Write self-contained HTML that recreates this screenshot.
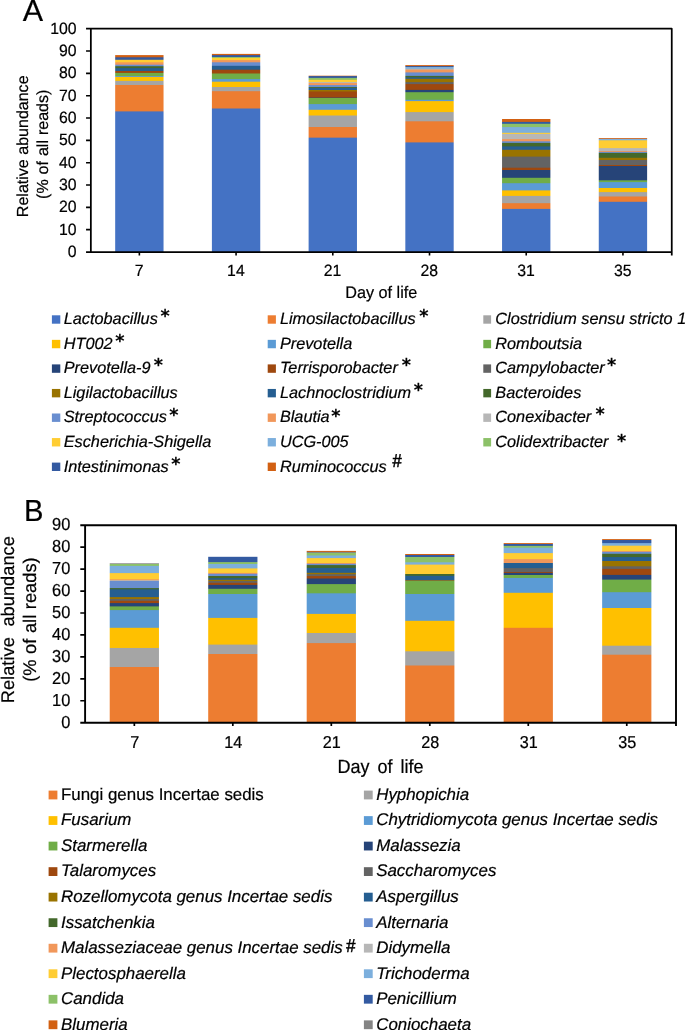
<!DOCTYPE html>
<html lang="en">
<head>
<meta charset="utf-8">
<title>Relative abundance of bacterial and fungal genera by day of life</title>
<style>
html,body{margin:0;padding:0;background:#fff;}
body{width:685px;height:1030px;overflow:hidden;}
svg{display:block;font-family:"Liberation Sans", sans-serif;fill:#000;text-rendering:geometricPrecision;}
text{stroke:#000;stroke-width:0.2px;}
</style>
</head>
<body>
<svg width="685" height="1030" viewBox="0 0 685 1030">
<rect x="0" y="0" width="685" height="1030" fill="#fff"/>
<text x="22.8" y="20.7" font-size="30.5">A</text>
<text transform="translate(23.95 520.9) scale(0.96 1)" font-size="30.4">B</text>
<g id="chartA">
<rect x="112.18" y="55.10" width="54.36" height="196.90" fill="#D26012"/>
<rect x="112.18" y="57.30" width="54.36" height="194.70" fill="#335AA1"/>
<rect x="112.18" y="59.80" width="54.36" height="192.20" fill="#FFCD33"/>
<rect x="112.18" y="62.30" width="54.36" height="189.70" fill="#F1975A"/>
<rect x="112.18" y="64.70" width="54.36" height="187.30" fill="#698ED0"/>
<rect x="112.18" y="66.20" width="54.36" height="185.80" fill="#43682B"/>
<rect x="112.18" y="68.10" width="54.36" height="183.90" fill="#255E91"/>
<rect x="112.18" y="71.00" width="54.36" height="181.00" fill="#9E480E"/>
<rect x="112.18" y="72.90" width="54.36" height="179.10" fill="#70AD47"/>
<rect x="112.18" y="76.00" width="54.36" height="176.00" fill="#5B9BD5"/>
<rect x="112.18" y="76.90" width="54.36" height="175.10" fill="#FFC000"/>
<rect x="112.18" y="80.90" width="54.36" height="171.10" fill="#A5A5A5"/>
<rect x="112.18" y="85.00" width="54.36" height="167.00" fill="#ED7D31"/>
<rect x="112.18" y="111.40" width="54.36" height="140.60" fill="#4472C4"/>
<rect x="110.18" y="53.10" width="5" height="198.90" fill="#fff"/>
<rect x="163.54" y="53.10" width="5" height="198.90" fill="#fff"/>
<rect x="208.90" y="53.90" width="54.36" height="198.10" fill="#D26012"/>
<rect x="208.90" y="55.10" width="54.36" height="196.90" fill="#335AA1"/>
<rect x="208.90" y="57.00" width="54.36" height="195.00" fill="#8CC168"/>
<rect x="208.90" y="57.90" width="54.36" height="194.10" fill="#FFCD33"/>
<rect x="208.90" y="60.10" width="54.36" height="191.90" fill="#F1975A"/>
<rect x="208.90" y="62.30" width="54.36" height="189.70" fill="#698ED0"/>
<rect x="208.90" y="65.80" width="54.36" height="186.20" fill="#255E91"/>
<rect x="208.90" y="69.70" width="54.36" height="182.30" fill="#9E480E"/>
<rect x="208.90" y="73.50" width="54.36" height="178.50" fill="#70AD47"/>
<rect x="208.90" y="79.10" width="54.36" height="172.90" fill="#5B9BD5"/>
<rect x="208.90" y="81.70" width="54.36" height="170.30" fill="#FFC000"/>
<rect x="208.90" y="87.00" width="54.36" height="165.00" fill="#A5A5A5"/>
<rect x="208.90" y="91.20" width="54.36" height="160.80" fill="#ED7D31"/>
<rect x="208.90" y="108.50" width="54.36" height="143.50" fill="#4472C4"/>
<rect x="206.90" y="51.90" width="5" height="200.10" fill="#fff"/>
<rect x="260.25" y="51.90" width="5" height="200.10" fill="#fff"/>
<rect x="305.61" y="75.70" width="54.36" height="176.30" fill="#D26012"/>
<rect x="305.61" y="76.10" width="54.36" height="175.90" fill="#335AA1"/>
<rect x="305.61" y="77.90" width="54.36" height="174.10" fill="#8CC168"/>
<rect x="305.61" y="79.80" width="54.36" height="172.20" fill="#FFCD33"/>
<rect x="305.61" y="82.10" width="54.36" height="169.90" fill="#B7B7B7"/>
<rect x="305.61" y="83.10" width="54.36" height="168.90" fill="#F1975A"/>
<rect x="305.61" y="85.10" width="54.36" height="166.90" fill="#698ED0"/>
<rect x="305.61" y="87.10" width="54.36" height="164.90" fill="#43682B"/>
<rect x="305.61" y="88.00" width="54.36" height="164.00" fill="#255E91"/>
<rect x="305.61" y="90.00" width="54.36" height="162.00" fill="#997300"/>
<rect x="305.61" y="91.50" width="54.36" height="160.50" fill="#9E480E"/>
<rect x="305.61" y="97.60" width="54.36" height="154.40" fill="#264478"/>
<rect x="305.61" y="98.00" width="54.36" height="154.00" fill="#70AD47"/>
<rect x="305.61" y="104.10" width="54.36" height="147.90" fill="#5B9BD5"/>
<rect x="305.61" y="109.80" width="54.36" height="142.20" fill="#FFC000"/>
<rect x="305.61" y="115.50" width="54.36" height="136.50" fill="#A5A5A5"/>
<rect x="305.61" y="127.00" width="54.36" height="125.00" fill="#ED7D31"/>
<rect x="305.61" y="137.65" width="54.36" height="114.35" fill="#4472C4"/>
<rect x="303.61" y="73.70" width="5" height="178.30" fill="#fff"/>
<rect x="356.97" y="73.70" width="5" height="178.30" fill="#fff"/>
<rect x="402.33" y="65.10" width="54.36" height="186.90" fill="#D26012"/>
<rect x="402.33" y="66.10" width="54.36" height="185.90" fill="#335AA1"/>
<rect x="402.33" y="67.00" width="54.36" height="185.00" fill="#7CAFDD"/>
<rect x="402.33" y="68.80" width="54.36" height="183.20" fill="#B7B7B7"/>
<rect x="402.33" y="69.60" width="54.36" height="182.40" fill="#F1975A"/>
<rect x="402.33" y="72.40" width="54.36" height="179.60" fill="#698ED0"/>
<rect x="402.33" y="75.90" width="54.36" height="176.10" fill="#43682B"/>
<rect x="402.33" y="77.30" width="54.36" height="174.70" fill="#255E91"/>
<rect x="402.33" y="78.80" width="54.36" height="173.20" fill="#997300"/>
<rect x="402.33" y="82.10" width="54.36" height="169.90" fill="#636363"/>
<rect x="402.33" y="84.10" width="54.36" height="167.90" fill="#9E480E"/>
<rect x="402.33" y="89.90" width="54.36" height="162.10" fill="#264478"/>
<rect x="402.33" y="92.20" width="54.36" height="159.80" fill="#70AD47"/>
<rect x="402.33" y="99.80" width="54.36" height="152.20" fill="#5B9BD5"/>
<rect x="402.33" y="101.10" width="54.36" height="150.90" fill="#FFC000"/>
<rect x="402.33" y="112.10" width="54.36" height="139.90" fill="#A5A5A5"/>
<rect x="402.33" y="121.30" width="54.36" height="130.70" fill="#ED7D31"/>
<rect x="402.33" y="142.40" width="54.36" height="109.60" fill="#4472C4"/>
<rect x="400.33" y="63.10" width="5" height="188.90" fill="#fff"/>
<rect x="453.69" y="63.10" width="5" height="188.90" fill="#fff"/>
<rect x="499.05" y="119.00" width="54.36" height="133.00" fill="#D26012"/>
<rect x="499.05" y="121.90" width="54.36" height="130.10" fill="#335AA1"/>
<rect x="499.05" y="123.80" width="54.36" height="128.20" fill="#8CC168"/>
<rect x="499.05" y="127.10" width="54.36" height="124.90" fill="#7CAFDD"/>
<rect x="499.05" y="132.80" width="54.36" height="119.20" fill="#FFCD33"/>
<rect x="499.05" y="133.90" width="54.36" height="118.10" fill="#B7B7B7"/>
<rect x="499.05" y="139.10" width="54.36" height="112.90" fill="#F1975A"/>
<rect x="499.05" y="141.30" width="54.36" height="110.70" fill="#698ED0"/>
<rect x="499.05" y="142.90" width="54.36" height="109.10" fill="#43682B"/>
<rect x="499.05" y="146.40" width="54.36" height="105.60" fill="#255E91"/>
<rect x="499.05" y="149.80" width="54.36" height="102.20" fill="#997300"/>
<rect x="499.05" y="156.60" width="54.36" height="95.40" fill="#636363"/>
<rect x="499.05" y="167.70" width="54.36" height="84.30" fill="#9E480E"/>
<rect x="499.05" y="170.00" width="54.36" height="82.00" fill="#264478"/>
<rect x="499.05" y="177.80" width="54.36" height="74.20" fill="#70AD47"/>
<rect x="499.05" y="183.20" width="54.36" height="68.80" fill="#5B9BD5"/>
<rect x="499.05" y="190.40" width="54.36" height="61.60" fill="#FFC000"/>
<rect x="499.05" y="195.90" width="54.36" height="56.10" fill="#A5A5A5"/>
<rect x="499.05" y="203.20" width="54.36" height="48.80" fill="#ED7D31"/>
<rect x="499.05" y="208.90" width="54.36" height="43.10" fill="#4472C4"/>
<rect x="497.05" y="117.00" width="5" height="135.00" fill="#fff"/>
<rect x="550.40" y="117.00" width="5" height="135.00" fill="#fff"/>
<rect x="595.76" y="138.10" width="54.36" height="113.90" fill="#D26012"/>
<rect x="595.76" y="138.90" width="54.36" height="113.10" fill="#7CAFDD"/>
<rect x="595.76" y="140.30" width="54.36" height="111.70" fill="#FFCD33"/>
<rect x="595.76" y="148.10" width="54.36" height="103.90" fill="#B7B7B7"/>
<rect x="595.76" y="151.00" width="54.36" height="101.00" fill="#F1975A"/>
<rect x="595.76" y="151.90" width="54.36" height="100.10" fill="#698ED0"/>
<rect x="595.76" y="152.90" width="54.36" height="99.10" fill="#43682B"/>
<rect x="595.76" y="157.80" width="54.36" height="94.20" fill="#997300"/>
<rect x="595.76" y="160.00" width="54.36" height="92.00" fill="#636363"/>
<rect x="595.76" y="165.00" width="54.36" height="87.00" fill="#9E480E"/>
<rect x="595.76" y="166.00" width="54.36" height="86.00" fill="#264478"/>
<rect x="595.76" y="180.30" width="54.36" height="71.70" fill="#70AD47"/>
<rect x="595.76" y="182.10" width="54.36" height="69.90" fill="#5B9BD5"/>
<rect x="595.76" y="188.00" width="54.36" height="64.00" fill="#FFC000"/>
<rect x="595.76" y="192.10" width="54.36" height="59.90" fill="#A5A5A5"/>
<rect x="595.76" y="196.50" width="54.36" height="55.50" fill="#ED7D31"/>
<rect x="595.76" y="201.80" width="54.36" height="50.20" fill="#4472C4"/>
<rect x="593.76" y="136.10" width="5" height="115.90" fill="#fff"/>
<rect x="647.12" y="136.10" width="5" height="115.90" fill="#fff"/>
<path d="M86.05 28.70H671.75V255.40M90.85 28.70V252.00M86.05 252.00H671.75" fill="none" stroke="#000" stroke-width="1.75" stroke-linejoin="round"/>
<path d="M86.05 229.67H90.85M86.05 207.34H90.85M86.05 185.01H90.85M86.05 162.68H90.85M86.05 140.35H90.85M86.05 118.02H90.85M86.05 95.69H90.85M86.05 73.36H90.85M86.05 51.03H90.85M139.36 252.00V255.40M236.07 252.00V255.40M332.79 252.00V255.40M429.51 252.00V255.40M526.22 252.00V255.40M622.94 252.00V255.40" fill="none" stroke="#000" stroke-width="1.6"/>
<text transform="translate(76.6 257.10) scale(1 1.035)" font-size="15.8" text-anchor="end">0</text>
<text transform="translate(76.6 234.77) scale(1 1.035)" font-size="15.8" text-anchor="end">10</text>
<text transform="translate(76.6 212.44) scale(1 1.035)" font-size="15.8" text-anchor="end">20</text>
<text transform="translate(76.6 190.11) scale(1 1.035)" font-size="15.8" text-anchor="end">30</text>
<text transform="translate(76.6 167.78) scale(1 1.035)" font-size="15.8" text-anchor="end">40</text>
<text transform="translate(76.6 145.45) scale(1 1.035)" font-size="15.8" text-anchor="end">50</text>
<text transform="translate(76.6 123.12) scale(1 1.035)" font-size="15.8" text-anchor="end">60</text>
<text transform="translate(76.6 100.79) scale(1 1.035)" font-size="15.8" text-anchor="end">70</text>
<text transform="translate(76.6 78.46) scale(1 1.035)" font-size="15.8" text-anchor="end">80</text>
<text transform="translate(76.6 56.13) scale(1 1.035)" font-size="15.8" text-anchor="end">90</text>
<text transform="translate(76.6 33.80) scale(1 1.035)" font-size="15.8" text-anchor="end">100</text>
<text transform="translate(139.16 275.9) scale(1 1.035)" font-size="15.8" text-anchor="middle">7</text>
<text transform="translate(235.88 275.9) scale(1 1.035)" font-size="15.8" text-anchor="middle">14</text>
<text transform="translate(332.59 275.9) scale(1 1.035)" font-size="15.8" text-anchor="middle">21</text>
<text transform="translate(429.31 275.9) scale(1 1.035)" font-size="15.8" text-anchor="middle">28</text>
<text transform="translate(526.02 275.9) scale(1 1.035)" font-size="15.8" text-anchor="middle">31</text>
<text transform="translate(622.74 275.9) scale(1 1.035)" font-size="15.8" text-anchor="middle">35</text>
<text transform="translate(381.30 298.2) scale(1 1.035)" font-size="16.2" text-anchor="middle" word-spacing="0">Day of life</text>
<text transform="translate(28.4 146.3) rotate(-90)" font-size="16.05" text-anchor="middle" word-spacing="0">Relative abundance</text>
<text transform="translate(47.9 144.3) rotate(-90)" font-size="16.05" text-anchor="middle" word-spacing="0.5">(% of all reads)</text>
</g>
<g id="legendA">
<rect x="51.90" y="315.30" width="8.4" height="8.4" fill="#4472C4"/>
<text x="63.70" y="324.20" font-size="16.3" font-style="italic">Lactobacillus</text>
<text x="165.0" y="321.7" font-family="DejaVu Sans, sans-serif" font-weight="bold" font-size="17.6" text-anchor="middle">*</text>
<rect x="267.70" y="315.30" width="8.2" height="8.4" fill="#ED7D31"/>
<text x="279.90" y="324.20" font-size="16.3" font-style="italic">Limosilactobacillus</text>
<text x="423.9" y="321.9" font-family="DejaVu Sans, sans-serif" font-weight="bold" font-size="17.6" text-anchor="middle">*</text>
<rect x="483.30" y="315.30" width="7.8" height="8.4" fill="#A5A5A5"/>
<text x="495.30" y="324.20" font-size="16.3" font-style="italic">Clostridium sensu stricto 1</text>
<rect x="51.90" y="339.85" width="8.4" height="8.4" fill="#FFC000"/>
<text x="63.70" y="348.75" font-size="16.3" font-style="italic">HT002</text>
<text x="119.8" y="346.8" font-family="DejaVu Sans, sans-serif" font-weight="bold" font-size="17.6" text-anchor="middle">*</text>
<rect x="267.70" y="339.85" width="8.2" height="8.4" fill="#5B9BD5"/>
<text x="279.90" y="348.75" font-size="16.3" font-style="italic">Prevotella</text>
<rect x="483.30" y="339.85" width="7.8" height="8.4" fill="#70AD47"/>
<text x="495.30" y="348.75" font-size="16.3" font-style="italic">Romboutsia</text>
<rect x="51.90" y="364.40" width="8.4" height="8.4" fill="#264478"/>
<text x="63.70" y="373.30" font-size="16.3" font-style="italic">Prevotella-9</text>
<text x="158.4" y="370.9" font-family="DejaVu Sans, sans-serif" font-weight="bold" font-size="17.6" text-anchor="middle">*</text>
<rect x="267.70" y="364.40" width="8.2" height="8.4" fill="#9E480E"/>
<text x="279.90" y="373.30" font-size="16.3" font-style="italic">Terrisporobacter</text>
<text x="406.3" y="371.1" font-family="DejaVu Sans, sans-serif" font-weight="bold" font-size="17.6" text-anchor="middle">*</text>
<rect x="483.30" y="364.40" width="7.8" height="8.4" fill="#636363"/>
<text x="495.30" y="373.30" font-size="16.3" font-style="italic">Campylobacter</text>
<text x="611.5" y="371.3" font-family="DejaVu Sans, sans-serif" font-weight="bold" font-size="17.6" text-anchor="middle">*</text>
<rect x="51.90" y="388.95" width="8.4" height="8.4" fill="#997300"/>
<text x="63.70" y="397.85" font-size="16.3" font-style="italic">Ligilactobacillus</text>
<rect x="267.70" y="388.95" width="8.2" height="8.4" fill="#255E91"/>
<text x="279.90" y="397.85" font-size="16.3" font-style="italic">Lachnoclostridium</text>
<text x="418.4" y="396.1" font-family="DejaVu Sans, sans-serif" font-weight="bold" font-size="17.6" text-anchor="middle">*</text>
<rect x="483.30" y="388.95" width="7.8" height="8.4" fill="#43682B"/>
<text x="495.30" y="397.85" font-size="16.3" font-style="italic">Bacteroides</text>
<rect x="51.90" y="413.50" width="8.4" height="8.4" fill="#698ED0"/>
<text x="63.70" y="422.40" font-size="16.3" font-style="italic">Streptococcus</text>
<text x="173.9" y="420.6" font-family="DejaVu Sans, sans-serif" font-weight="bold" font-size="17.6" text-anchor="middle">*</text>
<rect x="267.70" y="413.50" width="8.2" height="8.4" fill="#F1975A"/>
<text x="279.90" y="422.40" font-size="16.3" font-style="italic">Blautia</text>
<text x="335.85" y="422.35" font-family="DejaVu Sans, sans-serif" font-weight="bold" font-size="17.6" text-anchor="middle">*</text>
<rect x="483.30" y="413.50" width="7.8" height="8.4" fill="#B7B7B7"/>
<text x="495.30" y="422.40" font-size="16.3" font-style="italic">Conexibacter</text>
<text x="600.1" y="420.0" font-family="DejaVu Sans, sans-serif" font-weight="bold" font-size="17.6" text-anchor="middle">*</text>
<rect x="51.90" y="438.05" width="8.4" height="8.4" fill="#FFCD33"/>
<text x="63.70" y="446.95" font-size="16.3" font-style="italic">Escherichia-Shigella</text>
<rect x="267.70" y="438.05" width="8.2" height="8.4" fill="#7CAFDD"/>
<text x="279.90" y="446.95" font-size="16.3" font-style="italic">UCG-005</text>
<rect x="483.30" y="438.05" width="7.8" height="8.4" fill="#8CC168"/>
<text x="495.30" y="446.95" font-size="16.3" font-style="italic">Colidextribacter</text>
<text x="621.6" y="446.8" font-family="DejaVu Sans, sans-serif" font-weight="bold" font-size="17.6" text-anchor="middle">*</text>
<rect x="51.90" y="462.60" width="8.4" height="8.4" fill="#335AA1"/>
<text x="63.70" y="471.50" font-size="16.3" font-style="italic">Intestinimonas</text>
<text x="175.8" y="469.6" font-family="DejaVu Sans, sans-serif" font-weight="bold" font-size="17.6" text-anchor="middle">*</text>
<rect x="267.70" y="462.60" width="8.2" height="8.4" fill="#D26012"/>
<text x="279.90" y="471.50" font-size="16.3" font-style="italic">Ruminococcus</text>
<text transform="translate(397.2 460.7) scale(1 1.13)" y="5.7" font-size="16.5" text-anchor="middle" style="stroke-width:0.5px">#</text>
</g>
<g id="chartB">
<rect x="106.72" y="563.30" width="55.24" height="159.40" fill="#848484"/>
<rect x="106.72" y="564.00" width="55.24" height="158.70" fill="#8CC168"/>
<rect x="106.72" y="565.90" width="55.24" height="156.80" fill="#7CAFDD"/>
<rect x="106.72" y="573.10" width="55.24" height="149.60" fill="#FFCD33"/>
<rect x="106.72" y="579.30" width="55.24" height="143.40" fill="#F1975A"/>
<rect x="106.72" y="580.20" width="55.24" height="142.50" fill="#B7B7B7"/>
<rect x="106.72" y="581.00" width="55.24" height="141.70" fill="#698ED0"/>
<rect x="106.72" y="588.10" width="55.24" height="134.60" fill="#43682B"/>
<rect x="106.72" y="589.30" width="55.24" height="133.40" fill="#255E91"/>
<rect x="106.72" y="597.10" width="55.24" height="125.60" fill="#997300"/>
<rect x="106.72" y="599.00" width="55.24" height="123.70" fill="#636363"/>
<rect x="106.72" y="600.80" width="55.24" height="121.90" fill="#9E480E"/>
<rect x="106.72" y="603.10" width="55.24" height="119.60" fill="#264478"/>
<rect x="106.72" y="606.40" width="55.24" height="116.30" fill="#70AD47"/>
<rect x="106.72" y="610.10" width="55.24" height="112.60" fill="#5B9BD5"/>
<rect x="106.72" y="627.80" width="55.24" height="94.90" fill="#FFC000"/>
<rect x="106.72" y="647.95" width="55.24" height="74.75" fill="#A5A5A5"/>
<rect x="106.72" y="667.00" width="55.24" height="55.70" fill="#ED7D31"/>
<rect x="104.72" y="561.30" width="5" height="161.40" fill="#fff"/>
<rect x="158.96" y="561.30" width="5" height="161.40" fill="#fff"/>
<rect x="205.20" y="556.80" width="55.24" height="165.90" fill="#335AA1"/>
<rect x="205.20" y="562.10" width="55.24" height="160.60" fill="#8CC168"/>
<rect x="205.20" y="564.00" width="55.24" height="158.70" fill="#7CAFDD"/>
<rect x="205.20" y="568.40" width="55.24" height="154.30" fill="#FFCD33"/>
<rect x="205.20" y="572.90" width="55.24" height="149.80" fill="#F1975A"/>
<rect x="205.20" y="573.80" width="55.24" height="148.90" fill="#698ED0"/>
<rect x="205.20" y="576.00" width="55.24" height="146.70" fill="#43682B"/>
<rect x="205.20" y="578.20" width="55.24" height="144.50" fill="#255E91"/>
<rect x="205.20" y="579.80" width="55.24" height="142.90" fill="#997300"/>
<rect x="205.20" y="581.10" width="55.24" height="141.60" fill="#636363"/>
<rect x="205.20" y="582.80" width="55.24" height="139.90" fill="#9E480E"/>
<rect x="205.20" y="584.90" width="55.24" height="137.80" fill="#264478"/>
<rect x="205.20" y="588.80" width="55.24" height="133.90" fill="#70AD47"/>
<rect x="205.20" y="594.00" width="55.24" height="128.70" fill="#5B9BD5"/>
<rect x="205.20" y="617.90" width="55.24" height="104.80" fill="#FFC000"/>
<rect x="205.20" y="644.60" width="55.24" height="78.10" fill="#A5A5A5"/>
<rect x="205.20" y="654.00" width="55.24" height="68.70" fill="#ED7D31"/>
<rect x="203.20" y="554.80" width="5" height="167.90" fill="#fff"/>
<rect x="257.45" y="554.80" width="5" height="167.90" fill="#fff"/>
<rect x="303.69" y="550.90" width="55.24" height="171.80" fill="#D26012"/>
<rect x="303.69" y="551.90" width="55.24" height="170.80" fill="#848484"/>
<rect x="303.69" y="552.90" width="55.24" height="169.80" fill="#8CC168"/>
<rect x="303.69" y="555.50" width="55.24" height="167.20" fill="#7CAFDD"/>
<rect x="303.69" y="558.10" width="55.24" height="164.60" fill="#FFCD33"/>
<rect x="303.69" y="563.00" width="55.24" height="159.70" fill="#F1975A"/>
<rect x="303.69" y="563.80" width="55.24" height="158.90" fill="#698ED0"/>
<rect x="303.69" y="565.10" width="55.24" height="157.60" fill="#43682B"/>
<rect x="303.69" y="567.90" width="55.24" height="154.80" fill="#255E91"/>
<rect x="303.69" y="572.80" width="55.24" height="149.90" fill="#997300"/>
<rect x="303.69" y="574.20" width="55.24" height="148.50" fill="#636363"/>
<rect x="303.69" y="576.10" width="55.24" height="146.60" fill="#9E480E"/>
<rect x="303.69" y="578.50" width="55.24" height="144.20" fill="#264478"/>
<rect x="303.69" y="584.10" width="55.24" height="138.60" fill="#70AD47"/>
<rect x="303.69" y="593.30" width="55.24" height="129.40" fill="#5B9BD5"/>
<rect x="303.69" y="613.90" width="55.24" height="108.80" fill="#FFC000"/>
<rect x="303.69" y="633.00" width="55.24" height="89.70" fill="#A5A5A5"/>
<rect x="303.69" y="643.10" width="55.24" height="79.60" fill="#ED7D31"/>
<rect x="301.69" y="548.90" width="5" height="173.80" fill="#fff"/>
<rect x="355.93" y="548.90" width="5" height="173.80" fill="#fff"/>
<rect x="402.17" y="554.00" width="55.24" height="168.70" fill="#D26012"/>
<rect x="402.17" y="555.00" width="55.24" height="167.70" fill="#335AA1"/>
<rect x="402.17" y="557.00" width="55.24" height="165.70" fill="#8CC168"/>
<rect x="402.17" y="562.30" width="55.24" height="160.40" fill="#7CAFDD"/>
<rect x="402.17" y="564.60" width="55.24" height="158.10" fill="#FFCD33"/>
<rect x="402.17" y="574.00" width="55.24" height="148.70" fill="#43682B"/>
<rect x="402.17" y="575.80" width="55.24" height="146.90" fill="#255E91"/>
<rect x="402.17" y="580.20" width="55.24" height="142.50" fill="#9E480E"/>
<rect x="402.17" y="580.60" width="55.24" height="142.10" fill="#70AD47"/>
<rect x="402.17" y="594.00" width="55.24" height="128.70" fill="#5B9BD5"/>
<rect x="402.17" y="620.80" width="55.24" height="101.90" fill="#FFC000"/>
<rect x="402.17" y="651.30" width="55.24" height="71.40" fill="#A5A5A5"/>
<rect x="402.17" y="665.50" width="55.24" height="57.20" fill="#ED7D31"/>
<rect x="400.17" y="552.00" width="5" height="170.70" fill="#fff"/>
<rect x="454.41" y="552.00" width="5" height="170.70" fill="#fff"/>
<rect x="500.65" y="543.10" width="55.24" height="179.60" fill="#D26012"/>
<rect x="500.65" y="544.00" width="55.24" height="178.70" fill="#335AA1"/>
<rect x="500.65" y="545.90" width="55.24" height="176.80" fill="#8CC168"/>
<rect x="500.65" y="547.70" width="55.24" height="175.00" fill="#7CAFDD"/>
<rect x="500.65" y="553.10" width="55.24" height="169.60" fill="#FFCD33"/>
<rect x="500.65" y="559.10" width="55.24" height="163.60" fill="#F1975A"/>
<rect x="500.65" y="563.00" width="55.24" height="159.70" fill="#255E91"/>
<rect x="500.65" y="568.10" width="55.24" height="154.60" fill="#636363"/>
<rect x="500.65" y="572.00" width="55.24" height="150.70" fill="#9E480E"/>
<rect x="500.65" y="572.90" width="55.24" height="149.80" fill="#264478"/>
<rect x="500.65" y="575.00" width="55.24" height="147.70" fill="#70AD47"/>
<rect x="500.65" y="577.90" width="55.24" height="144.80" fill="#5B9BD5"/>
<rect x="500.65" y="592.80" width="55.24" height="129.90" fill="#FFC000"/>
<rect x="500.65" y="627.80" width="55.24" height="94.90" fill="#ED7D31"/>
<rect x="498.65" y="541.10" width="5" height="181.60" fill="#fff"/>
<rect x="552.90" y="541.10" width="5" height="181.60" fill="#fff"/>
<rect x="599.14" y="539.10" width="55.24" height="183.60" fill="#D26012"/>
<rect x="599.14" y="540.00" width="55.24" height="182.70" fill="#335AA1"/>
<rect x="599.14" y="543.10" width="55.24" height="179.60" fill="#7CAFDD"/>
<rect x="599.14" y="545.70" width="55.24" height="177.00" fill="#FFCD33"/>
<rect x="599.14" y="551.10" width="55.24" height="171.60" fill="#F1975A"/>
<rect x="599.14" y="551.80" width="55.24" height="170.90" fill="#698ED0"/>
<rect x="599.14" y="553.80" width="55.24" height="168.90" fill="#43682B"/>
<rect x="599.14" y="557.10" width="55.24" height="165.60" fill="#255E91"/>
<rect x="599.14" y="561.00" width="55.24" height="161.70" fill="#997300"/>
<rect x="599.14" y="566.30" width="55.24" height="156.40" fill="#636363"/>
<rect x="599.14" y="568.90" width="55.24" height="153.80" fill="#9E480E"/>
<rect x="599.14" y="574.90" width="55.24" height="147.80" fill="#264478"/>
<rect x="599.14" y="579.60" width="55.24" height="143.10" fill="#70AD47"/>
<rect x="599.14" y="592.20" width="55.24" height="130.50" fill="#5B9BD5"/>
<rect x="599.14" y="608.00" width="55.24" height="114.70" fill="#FFC000"/>
<rect x="599.14" y="645.70" width="55.24" height="77.00" fill="#A5A5A5"/>
<rect x="599.14" y="654.70" width="55.24" height="68.00" fill="#ED7D31"/>
<rect x="597.14" y="537.10" width="5" height="185.60" fill="#fff"/>
<rect x="651.38" y="537.10" width="5" height="185.60" fill="#fff"/>
<path d="M80.30 525.20H676.00V726.10M85.10 525.20V722.70M80.30 722.70H676.00" fill="none" stroke="#000" stroke-width="1.9" stroke-linejoin="round"/>
<path d="M80.30 700.76H85.10M80.30 678.81H85.10M80.30 656.87H85.10M80.30 634.92H85.10M80.30 612.98H85.10M80.30 591.03H85.10M80.30 569.09H85.10M80.30 547.14H85.10M134.34 722.70V726.10M232.82 722.70V726.10M331.31 722.70V726.10M429.79 722.70V726.10M528.27 722.70V726.10M626.76 722.70V726.10" fill="none" stroke="#000" stroke-width="1.7"/>
<text transform="translate(70.3 727.60) scale(1 1.06)" font-size="16.4" text-anchor="end">0</text>
<text transform="translate(70.3 705.66) scale(1 1.06)" font-size="16.4" text-anchor="end">10</text>
<text transform="translate(70.3 683.71) scale(1 1.06)" font-size="16.4" text-anchor="end">20</text>
<text transform="translate(70.3 661.77) scale(1 1.06)" font-size="16.4" text-anchor="end">30</text>
<text transform="translate(70.3 639.82) scale(1 1.06)" font-size="16.4" text-anchor="end">40</text>
<text transform="translate(70.3 617.88) scale(1 1.06)" font-size="16.4" text-anchor="end">50</text>
<text transform="translate(70.3 595.93) scale(1 1.06)" font-size="16.4" text-anchor="end">60</text>
<text transform="translate(70.3 573.99) scale(1 1.06)" font-size="16.4" text-anchor="end">70</text>
<text transform="translate(70.3 552.04) scale(1 1.06)" font-size="16.4" text-anchor="end">80</text>
<text transform="translate(70.3 530.10) scale(1 1.06)" font-size="16.4" text-anchor="end">90</text>
<text transform="translate(134.74 747.6) scale(1 1.06)" font-size="16.2" text-anchor="middle">7</text>
<text transform="translate(233.22 747.6) scale(1 1.06)" font-size="16.2" text-anchor="middle">14</text>
<text transform="translate(331.71 747.6) scale(1 1.06)" font-size="16.2" text-anchor="middle">21</text>
<text transform="translate(430.19 747.6) scale(1 1.06)" font-size="16.2" text-anchor="middle">28</text>
<text transform="translate(528.67 747.6) scale(1 1.06)" font-size="16.2" text-anchor="middle">31</text>
<text transform="translate(627.16 747.6) scale(1 1.06)" font-size="16.2" text-anchor="middle">35</text>
<text transform="translate(380.55 772.7) scale(1 1.06)" font-size="18" text-anchor="middle" word-spacing="3">Day of life</text>
<text transform="translate(14.4 619.7) rotate(-90)" font-size="18.3" text-anchor="middle" word-spacing="5.5">Relative abundance</text>
<text transform="translate(36.3 619.6) rotate(-90)" font-size="18.3" text-anchor="middle" word-spacing="0.5">(% of all reads)</text>
</g>
<g id="legendB">
<rect x="48.60" y="790.60" width="8.8" height="8.8" fill="#ED7D31"/>
<text x="61.00" y="799.90" font-size="16.9">Fungi genus Incertae sedis</text>
<rect x="363.90" y="790.60" width="8.8" height="8.8" fill="#A5A5A5"/>
<text x="376.20" y="799.90" font-size="16.9" font-style="italic">Hyphopichia</text>
<rect x="48.60" y="816.13" width="8.8" height="8.8" fill="#FFC000"/>
<text x="61.00" y="825.43" font-size="16.9" font-style="italic">Fusarium</text>
<rect x="363.90" y="816.13" width="8.8" height="8.8" fill="#5B9BD5"/>
<text x="376.20" y="825.43" font-size="16.9" font-style="italic">Chytridiomycota genus Incertae sedis</text>
<rect x="48.60" y="841.66" width="8.8" height="8.8" fill="#70AD47"/>
<text x="61.00" y="850.96" font-size="16.9" font-style="italic">Starmerella</text>
<rect x="363.90" y="841.66" width="8.8" height="8.8" fill="#264478"/>
<text x="376.20" y="850.96" font-size="16.9" font-style="italic">Malassezia</text>
<rect x="48.60" y="867.19" width="8.8" height="8.8" fill="#9E480E"/>
<text x="61.00" y="876.49" font-size="16.9" font-style="italic">Talaromyces</text>
<rect x="363.90" y="867.19" width="8.8" height="8.8" fill="#636363"/>
<text x="376.20" y="876.49" font-size="16.9" font-style="italic">Saccharomyces</text>
<rect x="48.60" y="892.72" width="8.8" height="8.8" fill="#997300"/>
<text x="61.00" y="902.02" font-size="16.9" font-style="italic">Rozellomycota genus Incertae sedis</text>
<rect x="363.90" y="892.72" width="8.8" height="8.8" fill="#255E91"/>
<text x="376.20" y="902.02" font-size="16.9" font-style="italic">Aspergillus</text>
<rect x="48.60" y="918.25" width="8.8" height="8.8" fill="#43682B"/>
<text x="61.00" y="927.55" font-size="16.9" font-style="italic">Issatchenkia</text>
<rect x="363.90" y="918.25" width="8.8" height="8.8" fill="#698ED0"/>
<text x="376.20" y="927.55" font-size="16.9" font-style="italic">Alternaria</text>
<rect x="48.60" y="943.78" width="8.8" height="8.8" fill="#F1975A"/>
<text x="61.00" y="953.08" font-size="16.9" font-style="italic">Malasseziaceae genus Incertae sedis</text>
<text transform="translate(350.9 945.4) scale(1 1.13)" y="5.7" font-size="16.5" text-anchor="middle" style="stroke-width:0.5px">#</text>
<rect x="363.90" y="943.78" width="8.8" height="8.8" fill="#B7B7B7"/>
<text x="376.20" y="953.08" font-size="16.9" font-style="italic">Didymella</text>
<rect x="48.60" y="969.31" width="8.8" height="8.8" fill="#FFCD33"/>
<text x="61.00" y="978.61" font-size="16.9" font-style="italic">Plectosphaerella</text>
<rect x="363.90" y="969.31" width="8.8" height="8.8" fill="#7CAFDD"/>
<text x="376.20" y="978.61" font-size="16.9" font-style="italic">Trichoderma</text>
<rect x="48.60" y="994.84" width="8.8" height="8.8" fill="#8CC168"/>
<text x="61.00" y="1004.14" font-size="16.9" font-style="italic">Candida</text>
<rect x="363.90" y="994.84" width="8.8" height="8.8" fill="#335AA1"/>
<text x="376.20" y="1004.14" font-size="16.9" font-style="italic">Penicillium</text>
<rect x="48.60" y="1020.37" width="8.8" height="8.8" fill="#D26012"/>
<text x="61.00" y="1029.67" font-size="16.9" font-style="italic">Blumeria</text>
<rect x="363.90" y="1020.37" width="8.8" height="8.8" fill="#848484"/>
<text x="376.20" y="1029.67" font-size="16.9" font-style="italic">Coniochaeta</text>
</g>
</svg>
</body>
</html>
